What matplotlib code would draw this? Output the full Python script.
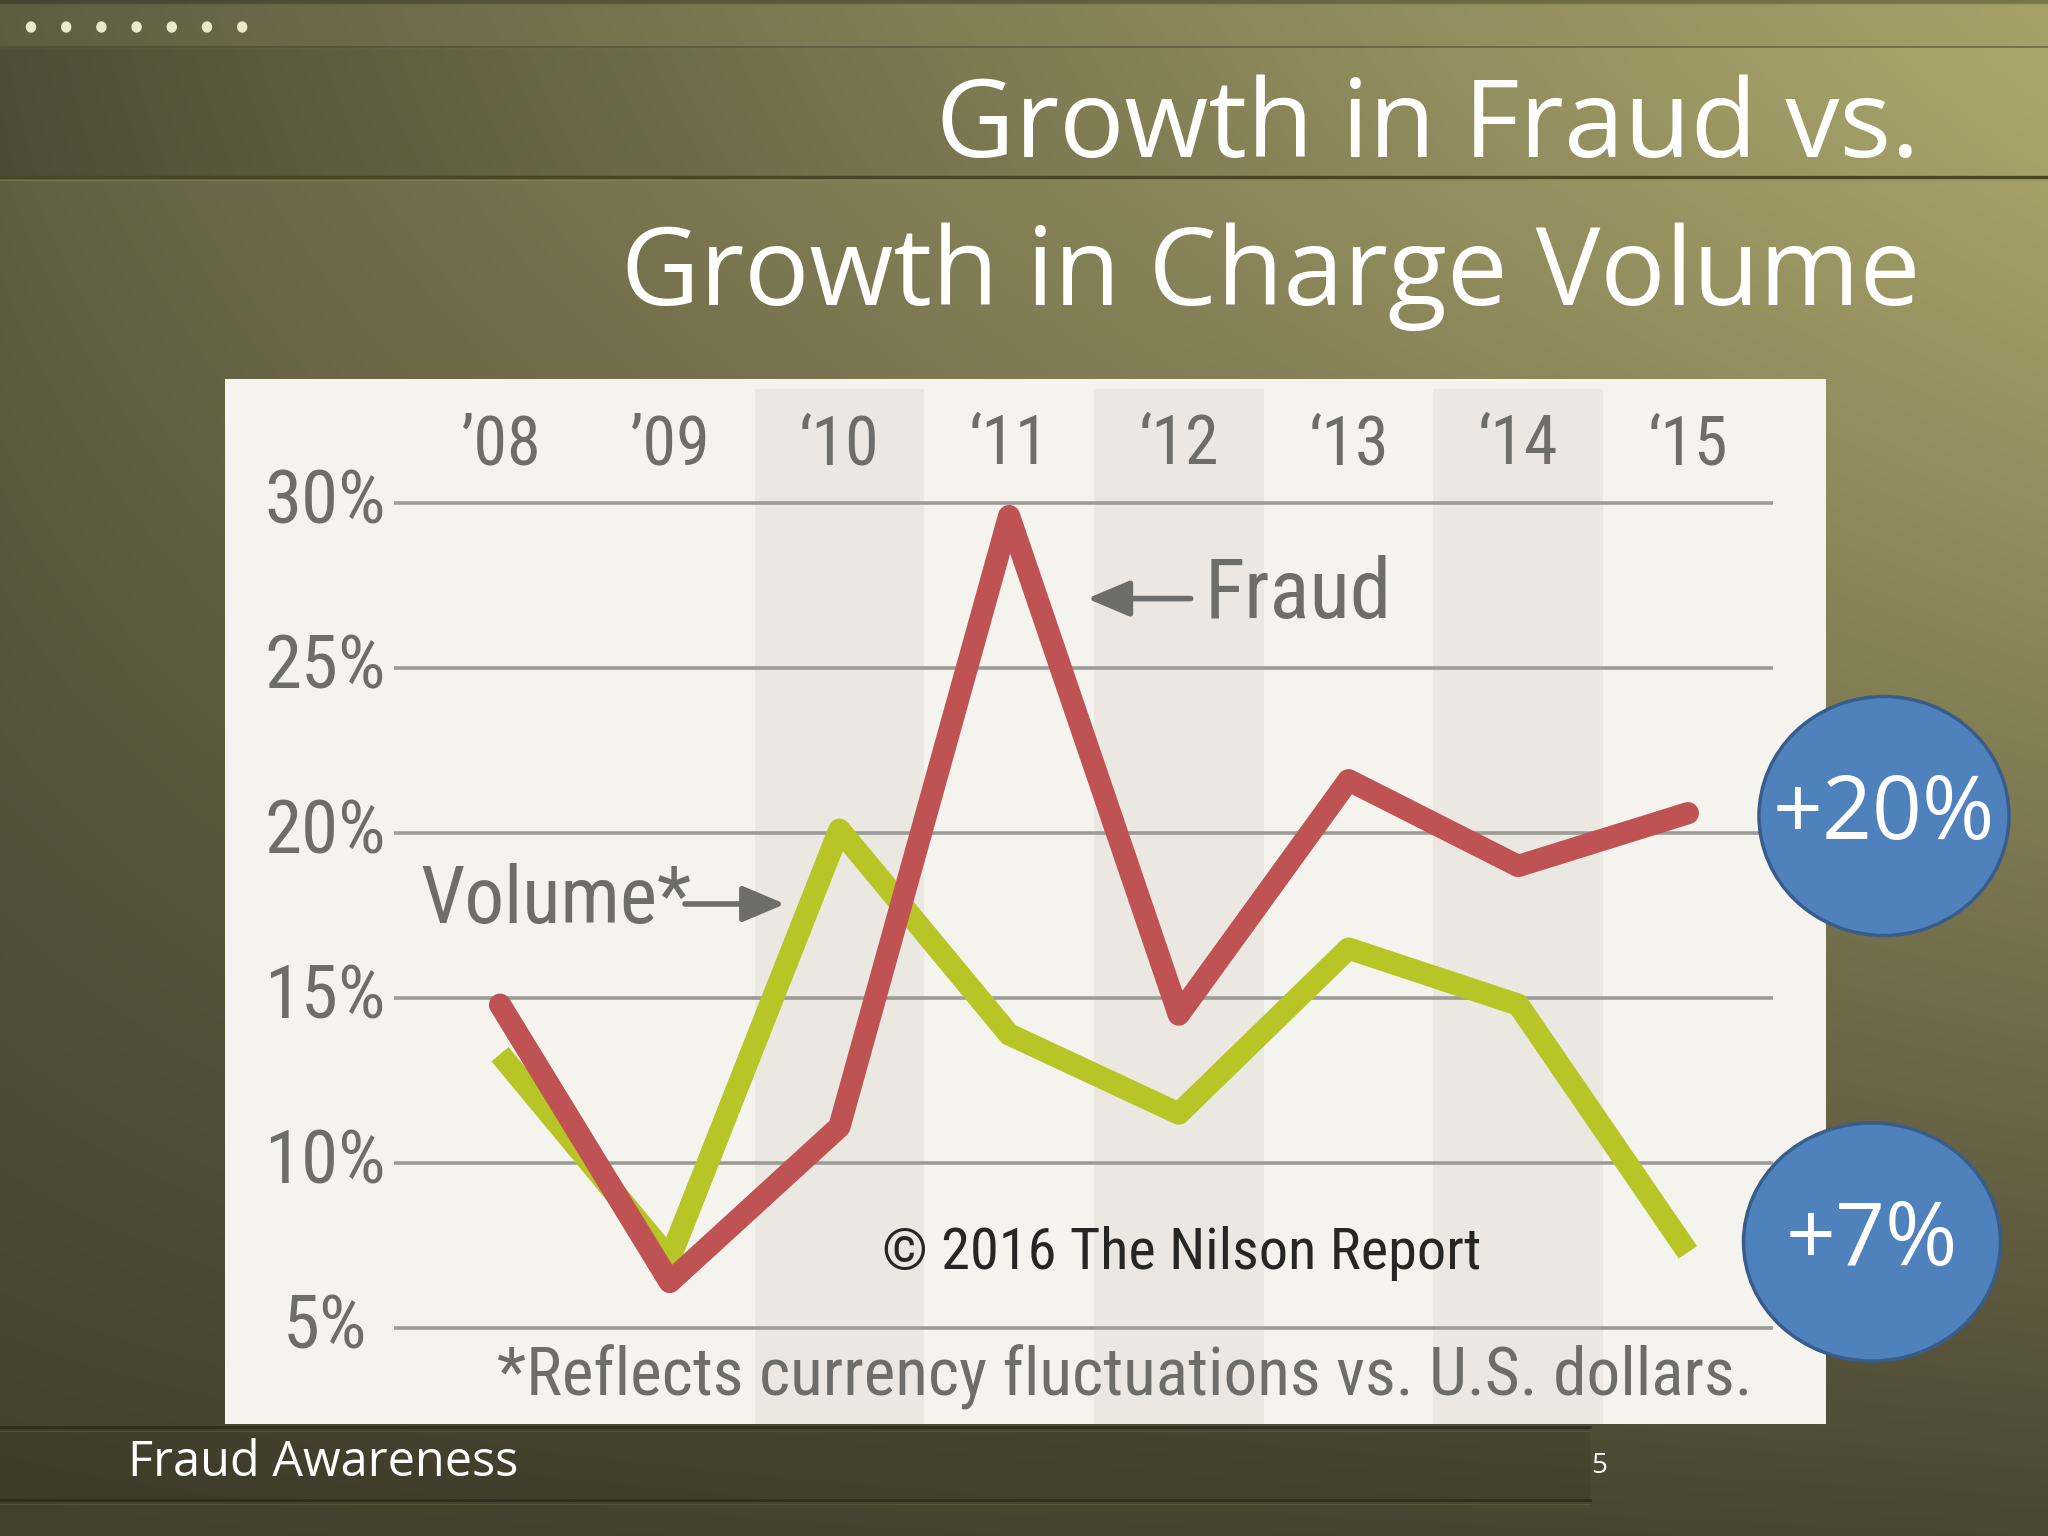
import matplotlib
matplotlib.use('Agg')
import matplotlib.pyplot as plt
from matplotlib.patches import Ellipse, Rectangle
from matplotlib import font_manager
import numpy as np

# ---- data ----
years = ['\u201908', '\u201909', '\u201810', '\u201811', '\u201812', '\u201813', '\u201814', '\u201815']
fraud_growth = [14.8, 6.4, 11.1, 29.6, 14.5, 21.6, 19.0, 20.6]
volume_growth = [13.3, 7.1, 20.1, 13.9, 11.5, 16.5, 14.8, 7.3]
y_ticks = [5, 10, 15, 20, 25, 30]
y_tick_labels = ['5%', '10%', '15%', '20%', '25%', '30%']
shaded_years = [2, 4, 6]          # '10, '12, '14 columns
badge_labels = ['+20%', '+7%']

title_lines = ['Growth in Fraud vs.', 'Growth in Charge Volume']
footer_text = 'Fraud Awareness'
page_number = '5'
credit_text = '\u00a9 2016 The Nilson Report'
note_text = '*Reflects currency fluctuations vs. U.S. dollars.'


def pick_font(names):
    have = {f.name for f in font_manager.fontManager.ttflist}
    for n in names:
        if n in have:
            return n
    return 'DejaVu Sans'


narrow = pick_font(['Liberation Sans Narrow', 'DejaVu Sans Condensed', 'Roboto Condensed'])
slide_font = 'Open Sans'

W, H = 2048, 1536
fig = plt.figure(figsize=(W / 100, H / 100), dpi=100)

# ---- slide background (pixel coordinates) ----
bg = fig.add_axes([0, 0, 1, 1], zorder=0)
bg.set_xlim(0, W)
bg.set_ylim(H, 0)
bg.axis('off')

h2, w2 = H // 2, W // 2
u = np.linspace(0, 1, w2)[None, :, None]
v = np.linspace(0, 1, h2)[:, None, None]
top_l = np.array([0x64, 0x60, 0x44]) / 255
top_r = np.array([0xac, 0xa8, 0x6d]) / 255
bot_l = np.array([0x44, 0x40, 0x2e]) / 255
bot_r = np.array([0x4b, 0x46, 0x33]) / 255
top_row = top_l + (top_r - top_l) * u ** 0.9
bot_row = bot_l + (bot_r - bot_l) * u
mix = v ** 1.2
img = top_row * (1 - mix) + bot_row * mix
ypix = np.linspace(0, H, h2)[:, None, None]
dark_band = (ypix > 47) & (ypix < 177)
img = np.where(dark_band, img * (1 - 0.2 * (1 - u) ** 1.5), img)
strip = (ypix > 3) & (ypix <= 47)
img = np.where(strip, img * 0.96, img)
img = np.where(ypix <= 3, img * 0.7, img)
bg.imshow(np.clip(img, 0, 1), extent=(0, W, H, 0), aspect='auto',
          interpolation='bilinear')

bg.plot([0, W], [47, 47], color='#4a4630', lw=1.2, alpha=0.6)
bg.plot([0, W], [177, 177], color='#4a4624', lw=2.4)
bg.plot([0, W], [180, 180], color='#8e8a5c', lw=1.0, alpha=0.5)

# little dots in the top strip
for k in range(7):
    bg.add_patch(Ellipse((31 + 35.2 * k, 27), 9, 10, color='#ece8cc'))

# footer bar
bg.add_patch(Rectangle((0, 1427), 1590, 73, color='#2f2c1f', alpha=0.2, lw=0))
bg.plot([0, 1590], [1427, 1427], color='#2b281c', lw=2.0, alpha=0.8)
bg.plot([0, 1590], [1431, 1431], color='#6c6848', lw=0.8, alpha=0.5)
bg.plot([0, 1590], [1500, 1500], color='#2b281c', lw=2.0, alpha=0.8)
bg.plot([0, 1590], [1504, 1504], color='#6c6848', lw=0.8, alpha=0.5)

# ---- chart panel ----
px_l, px_r, px_t, px_b = 225, 1826, 379, 1424
ax = fig.add_axes([px_l / W, 1 - px_b / H, (px_r - px_l) / W, (px_b - px_t) / H], zorder=1)
ax.set_facecolor('#f5f3ee')
ax.set_xlim(-1.6205, 7.8138)
ax.set_ylim(2.10, 33.75)
for s in ax.spines.values():
    s.set_visible(False)
ax.set_xticks([])
ax.set_yticks([])

x = np.arange(len(years))
for i in shaded_years:
    ax.axvspan(i - 0.5, i + 0.5, ymin=0, ymax=(33.45 - 2.10) / (33.75 - 2.10),
               color='#ebe8e2', lw=0, zorder=0)

ax.hlines(y_ticks, -0.625, 7.5, color='#9c9b96', lw=2.6, zorder=1)

text_gray = '#6d6d6a'
for yv, lab in zip(y_ticks, y_tick_labels):
    ax.text(-1.03, yv, lab, ha='center', va='center', fontsize=54,
            family=narrow, color=text_gray)
for xi, lab in zip(x, years):
    ax.text(xi, 31.75, lab, ha='center', va='center', fontsize=49,
            family=narrow, color=text_gray)

ax.plot(x, volume_growth, color='#b8c526', lw=16, solid_joinstyle='round',
        solid_capstyle='butt', zorder=3)
ax.plot(x, fraud_growth, color='#bf5252', lw=16, solid_joinstyle='round',
        solid_capstyle='round', zorder=4)

arrow = dict(arrowstyle='-|>,head_length=1.3,head_width=0.55', color='#6d6d6a',
             lw=4.0, shrinkA=0, shrinkB=0, mutation_scale=20)
ax.annotate('', xy=(3.46, 27.1), xytext=(4.07, 27.1), arrowprops=arrow, zorder=5)
ax.text(4.15, 27.2, 'Fraud', ha='left', va='center', fontsize=60,
        family=narrow, color=text_gray)
ax.text(-0.47, 17.95, 'Volume*', ha='left', va='center', fontsize=57,
        family=narrow, color=text_gray)
ax.annotate('', xy=(1.68, 17.85), xytext=(1.09, 17.85), arrowprops=arrow, zorder=5)

ax.text(2.25, 7.25, credit_text, ha='left', va='center', fontsize=42,
        family=narrow, color='#262624')
ax.text(-0.02, 3.5, note_text, ha='left', va='center', fontsize=48.5,
        family=narrow, color=text_gray)

# ---- overlay: title, badges, footer ----
ov = fig.add_axes([0, 0, 1, 1], zorder=2)
ov.set_xlim(0, W)
ov.set_ylim(H, 0)
ov.axis('off')
ov.patch.set_alpha(0)

ov.text(1920, 157, title_lines[0], ha='right', va='baseline', fontsize=78,
        family=slide_font, color='white')
ov.text(1920, 305, title_lines[1], ha='right', va='baseline', fontsize=78,
        family=slide_font, color='white')

badge_pos = [(1884, 816, 250, 239), (1872, 1242, 257, 238)]
for (cx, cy, bw, bh), lab in zip(badge_pos, badge_labels):
    ov.add_patch(Ellipse((cx, cy), bw, bh, facecolor='#4f81bd',
                         edgecolor='#385d8a', lw=2.5))
    ov.text(cx, cy, lab, ha='center', va='center', fontsize=63,
            family=slide_font, color='white')

ov.text(128, 1463, footer_text, ha='left', va='center', fontsize=35,
        family=slide_font, color='white')
ov.text(1599, 1466, page_number, ha='center', va='center', fontsize=20,
        family=slide_font, color='white')

fig.savefig('out.png', dpi=100)
